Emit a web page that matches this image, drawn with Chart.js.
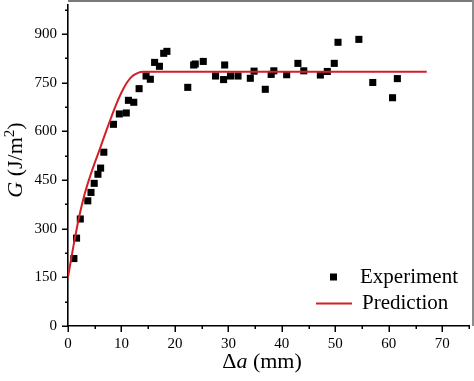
<!DOCTYPE html>
<html>
<head>
<meta charset="utf-8">
<script src="https://cdn.jsdelivr.net/npm/chart.js@4/dist/chart.umd.min.js"></script>
<style>
html,body{margin:0;padding:0;background:#fff;}
#wrap{width:474px;height:381px;}
</style>
</head>
<body>
<div id="wrap"><canvas id="c" width="474" height="381"></canvas></div>
<script>
// Experimental points
const expX = [1.1,1.6,2.3,3.7,4.3,4.9,5.6,6.1,6.7,8.5,9.6,10.9,11.3,12.3,13.3,14.6,15.4,16.2,17.1,17.9,18.5,22.4,23.5,23.8,25.3,27.6,29.1,29.3,30.4,31.8,34.1,34.8,36.9,38.0,38.5,40.9,43.0,44.1,47.2,48.5,49.8,50.5,54.4,57.0,60.7,61.6];
const expY = [208,271,330,386,412,440,468,487,536,622,654,657,696,690,732,771,761,813,801,841,847,736,805,808,816,771,760,805,771,771,764,786,730,776,787,775,810,787,774,785,810,875,884,751,704,763];
// Prediction curve
const predX = [0,1,2,3,4,5,6,7,8,9,10,11,12,13,14,67.1];
const predY = [151,245,330,400,455,503,548,595,640,683,720,750,770,780,784,784];
// Tick labels
const xTickLabels = [0,10,20,30,40,50,60,70];
const yTickLabels = [0,150,300,450,600,750,900];
const xMinorStep = 5, yMinorStep = 75;
const seriesNames = ['Experiment','Prediction'];

const SERIF = "'Liberation Serif','Times New Roman',serif";
const RED = '#d41f26';

const expData = expX.map((x,i)=>({x, y: expY[i]}));
const predData = predX.map((x,i)=>({x, y: predY[i]}));

const decor = {
  id: 'decor',
  afterDraw(chart){
    const ctx = chart.ctx;
    const xs = chart.scales.x, ys = chart.scales.y;
    const ca = chart.chartArea;
    ctx.save();
    // frame top and right (grey)
    ctx.strokeStyle = '#7a7a7a';
    ctx.lineWidth = 2;
    ctx.beginPath();
    ctx.moveTo(ca.left, 1); ctx.lineTo(474, 1);
    ctx.stroke();
    ctx.strokeStyle = '#8c8c8c';
    ctx.beginPath();
    ctx.moveTo(473, 0); ctx.lineTo(473, ca.bottom);
    ctx.stroke();
    // ticks
    ctx.strokeStyle = '#000';
    ctx.lineWidth = 1.5;
    for (let v = xs.min; v <= xs.max + 1e-9; v += xMinorStep) {
      const px = Math.round(xs.getPixelForValue(v)) + 0.25;
      const major = xTickLabels.includes(v);
      ctx.beginPath();
      ctx.moveTo(px, ca.bottom);
      ctx.lineTo(px, ca.bottom + (major ? 6 : 3));
      ctx.stroke();
    }
    for (let v = ys.min; v <= ys.max + 1e-9; v += yMinorStep) {
      const py = Math.round(ys.getPixelForValue(v)) + 0.25;
      const major = yTickLabels.includes(v);
      ctx.beginPath();
      ctx.moveTo(ca.left, py);
      ctx.lineTo(ca.left - (major ? 6 : 3), py);
      ctx.stroke();
    }
    // x axis title: Δa (mm)
    ctx.fillStyle = '#000';
    ctx.textBaseline = 'alphabetic';
    const fN = "22px " + SERIF, fI = "italic 22px " + SERIF;
    const parts = [["Δ", fN], ["a", fI], [" (mm)", fN]];
    let w = 0;
    parts.forEach(p => { ctx.font = p[1]; w += ctx.measureText(p[0]).width; });
    let x0 = 262 - w/2;
    parts.forEach(p => { ctx.font = p[1]; ctx.fillText(p[0], x0, 368); x0 += ctx.measureText(p[0]).width; });
    // y axis title: G (J/m²)
    ctx.save();
    ctx.translate(22, 160);
    ctx.rotate(-Math.PI/2);
    const yParts = [["G", fI, 0], [" (J/m", fN, 0], ["2", "15px " + SERIF, -8], [")", fN, 0]];
    w = 0;
    yParts.forEach(p => { ctx.font = p[1]; w += ctx.measureText(p[0]).width; });
    x0 = -w/2;
    yParts.forEach(p => { ctx.font = p[1]; ctx.fillText(p[0], x0, p[2]); x0 += ctx.measureText(p[0]).width; });
    ctx.restore();
    // legend
    ctx.fillStyle = '#000';
    ctx.fillRect(333.5 - 3.5, 277 - 3.5, 7, 7);
    ctx.strokeStyle = RED;
    ctx.lineWidth = 2;
    ctx.beginPath();
    ctx.moveTo(316, 303.5); ctx.lineTo(352, 303.5);
    ctx.stroke();
    ctx.font = "21px " + SERIF;
    ctx.textBaseline = 'middle';
    ctx.fillText(seriesNames[0], 360, 277);
    ctx.fillText(seriesNames[1], 362, 303);
    ctx.restore();
  }
};

new Chart(document.getElementById('c'), {
  data: {
    datasets: [
      {
        type: 'line',
        label: seriesNames[1],
        data: predData,
        borderColor: RED,
        borderWidth: 2,
        pointRadius: 0,
        fill: false,
        cubicInterpolationMode: 'monotone',
        order: 0
      },
      {
        type: 'scatter',
        label: seriesNames[0],
        data: expData,
        backgroundColor: '#000',
        borderColor: '#000',
        borderWidth: 0,
        pointStyle: 'rect',
        pointRadius: 5,
        order: 1
      }
    ]
  },
  options: {
    responsive: false,
    animation: false,
    devicePixelRatio: 1,
    layout: { padding: { top: 1, right: 1, left: 0, bottom: 0 } },
    plugins: { legend: { display: false }, tooltip: { enabled: false } },
    scales: {
      x: {
        type: 'linear',
        min: 0, max: 75,
        grid: { display: false, drawTicks: false },
        border: { display: true, color: '#000', width: 1.6 },
        afterBuildTicks: (s) => { s.ticks = xTickLabels.map(v => ({ value: v })); },
        ticks: {
          autoSkip: false, maxRotation: 0,
          color: '#000',
          font: { family: SERIF, size: 15 },
          padding: 9,
          callback: (v) => String(v)
        },
        afterFit: (s) => { s.height = 55; s.paddingLeft = 0; s.paddingRight = 0; }
      },
      y: {
        type: 'linear',
        min: 0, max: 990,
        grid: { display: false, drawTicks: false },
        border: { display: true, color: '#000', width: 1.6 },
        afterBuildTicks: (s) => { s.ticks = yTickLabels.map(v => ({ value: v })); },
        ticks: {
          autoSkip: false,
          color: '#000',
          font: { family: SERIF, size: 15 },
          padding: 11,
          callback: (v) => String(v)
        },
        afterFit: (s) => { s.width = 68; s.paddingTop = 0; s.paddingBottom = 0; }
      }
    }
  },
  plugins: [decor]
});
</script>
</body>
</html>
